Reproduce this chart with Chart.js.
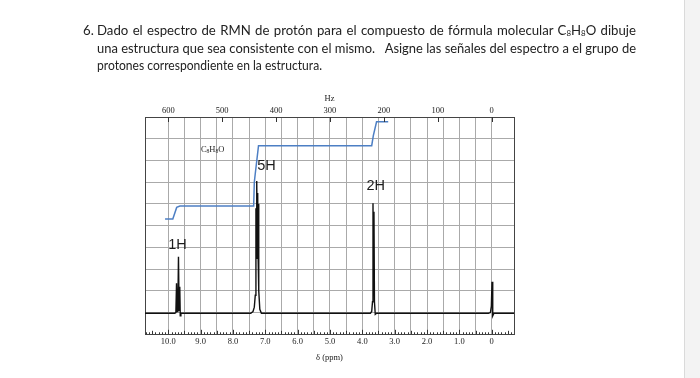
<!DOCTYPE html>
<html>
<head>
<meta charset="utf-8">
<script src="https://cdn.jsdelivr.net/npm/chart.js@4.4.0/dist/chart.umd.min.js"></script>
<style>
  html, body { margin: 0; padding: 0; background: #fff; }
  body { width: 700px; height: 378px; position: relative; overflow: hidden; }
  #chart { position: absolute; left: 0; top: 0; }
  .ln { position: absolute; left: 97px; font-family: Lato, "Open Sans", sans-serif; font-size: 13.2px;
        line-height: 17px; color: #222; white-space: nowrap; }
  .ln span { display: inline-block; transform-origin: 0 0; }
  .ln sub { font-size: 0.6em; vertical-align: -0.15em; line-height: 0; }
  #num { left: 83px; }
  #edge { position: absolute; left: 684px; top: 0; width: 16px; height: 378px;
          background: #f3f3f3; border-left: 1px solid #dadada; }
</style>
</head>
<body>
<canvas id="chart" width="700" height="378"></canvas>
<div class="ln" id="num" style="top:22px"><span>6.</span></div>
<div class="ln" id="l1" style="top:22px"><span>Dado el espectro de RMN de protón para el compuesto de fórmula molecular C<sub>8</sub>H<sub>8</sub>O dibuje</span></div>
<div class="ln" id="l2" style="top:39.5px"><span>una estructura que sea consistente con el mismo.&nbsp;&nbsp; Asigne las señales del espectro a el grupo de</span></div>
<div class="ln" id="l3" style="top:57px"><span>protones correspondiente en la estructura.</span></div>
<div id="edge"></div>
<script>
// chemical shift axis (ppm) and frequency axis (Hz, 60 MHz)
var ppmTicks = [10, 9, 8, 7, 6, 5, 4, 3, 2, 1, 0];
var ppmGrid = [10, 9.5, 9, 8.5, 8, 7.5, 7, 6.5, 6, 5.5, 5, 4.5, 4, 3.5, 3, 2.5, 2, 1.5, 1, 0.5, 0];
var hzTicks = [600, 500, 400, 300, 200, 100, 0];

// spectrum trace
var specPpm = [10.72, 9.80, 9.765, 9.745, 9.725, 9.705, 9.685, 9.665, 9.645, 9.63, 9.61,
    7.45, 7.38, 7.34, 7.31, 7.29, 7.28, 7.265, 7.25, 7.235, 7.225, 7.21, 7.195, 7.17, 7.12,
    3.75, 3.71, 3.685, 3.67, 3.655, 3.64, 3.625, 3.60, 3.56,
    0.10, 0.04, 0.01, -0.01, -0.025, -0.04, -0.07, -0.69];
var specInt = [0.97, 0.97, 1.0, 2.35, 1.05, 1.1, 3.57, 1.1, 2.19, 0.85, 0.97,
    0.97, 1.05, 1.25, 1.8, 5.8, 3.5, 7.05, 4.2, 6.5, 3.8, 6.0, 2.0, 1.15, 0.97,
    0.97, 1.05, 1.5, 6.03, 2.7, 5.64, 1.5, 0.92, 0.97,
    0.97, 1.0, 1.3, 2.42, 1.0, 0.85, 0.97, 0.97];

// integral curve
var integPpm = [10.1, 9.86, 9.74, 9.64, 7.36, 7.34, 7.31, 7.21, 3.71, 3.66, 3.56, 3.20];
var integVal = [5.31, 5.31, 5.84, 5.90, 5.90, 7.0, 7.4, 8.68, 8.68, 9.14, 9.78, 9.78];

// integration labels
var peakLabels = ['1H', '5H', '2H'];
var peakLabelPpm = [10.0, 7.25, 3.87];
var peakLabelVal = [3.93, 7.56, 6.64];

var serif = 'Liberation Serif';

var nmrDecor = {
    id: 'nmrDecor',
    afterDatasetsDraw: function(chart) {
        var ctx = chart.ctx;
        var area = chart.chartArea;
        var x = chart.scales.x, y = chart.scales.y, hz = chart.scales.hz;
        var i, px;

        ctx.save();
        ctx.strokeStyle = '#333';
        ctx.lineWidth = 1;

        // Hz tick marks, pointing into the box
        hzTicks.forEach(function(v) {
            px = Math.round(hz.getPixelForValue(v)) + 0.5;
            ctx.beginPath();
            ctx.moveTo(px, area.top);
            ctx.lineTo(px, area.top + 5);
            ctx.stroke();
        });

        // ruler along the bottom edge, every 0.1 ppm
        for (i = -6; i <= 107; i++) {
            var len = i % 10 === 0 ? 4.5 : (i % 5 === 0 ? 3.5 : 2);
            px = Math.round(x.getPixelForValue(i / 10)) + 0.5;
            ctx.beginPath();
            ctx.moveTo(px, area.bottom);
            ctx.lineTo(px, area.bottom - len);
            ctx.stroke();
        }

        // 1H / 5H / 2H
        ctx.fillStyle = '#1c1c1c';
        ctx.font = '14.5px "Liberation Sans", Arial, sans-serif';
        ctx.textAlign = 'left';
        ctx.textBaseline = 'alphabetic';
        peakLabels.forEach(function(t, k) {
            ctx.fillText(t, x.getPixelForValue(peakLabelPpm[k]), y.getPixelForValue(peakLabelVal[k]));
        });

        // molecular formula C8H8O
        var fx = x.getPixelForValue(8.99), fy = y.getPixelForValue(8.39);
        var parts = [['C', 8.5], ['8', 5.5], ['H', 8.5], ['8', 5.5], ['O', 8.5]];
        ctx.fillStyle = '#2a2a2a';
        parts.forEach(function(p) {
            ctx.font = p[1] + 'px "' + serif + '"';
            ctx.fillText(p[0], fx, p[1] < 8 ? fy + 1.5 : fy);
            fx += ctx.measureText(p[0]).width;
        });
        ctx.restore();
    }
};

new Chart(document.getElementById('chart'), {
    type: 'line',
    data: {
        datasets: [
            {
                label: 'Espectro',
                data: specPpm.map(function(p, i) { return {x: p, y: specInt[i]}; }),
                borderColor: '#111',
                borderWidth: 1.4,
                pointRadius: 0,
                tension: 0
            },
            {
                label: 'Integral',
                data: integPpm.map(function(p, i) { return {x: p, y: integVal[i]}; }),
                borderColor: '#4d7fc4',
                borderWidth: 1.5,
                pointRadius: 0,
                tension: 0
            }
        ]
    },
    options: {
        responsive: false,
        animation: false,
        layout: { padding: 0 },
        plugins: { legend: { display: false }, tooltip: { enabled: false } },
        scales: {
            x: {
                type: 'linear',
                position: 'bottom',
                reverse: true,
                min: -0.69,
                max: 10.72,
                afterBuildTicks: function(s) {
                    s.ticks = ppmGrid.map(function(v) { return {value: v}; });
                },
                afterFit: function(s) { s.height = 43.7; },
                ticks: {
                    autoSkip: false,
                    maxRotation: 0,
                    padding: 2.6,
                    color: '#222',
                    font: { family: serif, size: 8.5 },
                    callback: function(v) {
                        if (ppmTicks.indexOf(v) < 0) return '';
                        return v === 0 ? '0' : v.toFixed(1);
                    }
                },
                grid: { color: '#aaaaaa', lineWidth: 1, drawTicks: false },
                border: { display: true, color: '#444', width: 1 },
                title: {
                    display: true,
                    text: 'δ (ppm)',
                    color: '#222',
                    font: { family: serif, size: 8.5 },
                    padding: { top: 0, bottom: 15.4 }
                }
            },
            hz: {
                type: 'linear',
                position: 'top',
                reverse: true,
                min: -41.4,
                max: 643.2,
                afterBuildTicks: function(s) {
                    s.ticks = hzTicks.map(function(v) { return {value: v}; });
                },
                afterFit: function(s) { s.height = 117; },
                ticks: {
                    autoSkip: false,
                    maxRotation: 0,
                    padding: 1.2,
                    color: '#222',
                    font: { family: serif, size: 8.5 }
                },
                grid: { drawOnChartArea: false, drawTicks: false },
                border: { display: true, color: '#444', width: 1 },
                title: {
                    display: true,
                    text: 'Hz',
                    color: '#222',
                    font: { family: serif, size: 8.5 },
                    padding: { top: 94, bottom: 0 }
                }
            },
            y: {
                type: 'linear',
                position: 'left',
                min: 0,
                max: 10,
                afterFit: function(s) { s.width = 145; },
                ticks: { stepSize: 1, display: false },
                grid: { color: '#aaaaaa', lineWidth: 1, drawTicks: false },
                border: { display: true, color: '#444', width: 1 }
            },
            y2: {
                type: 'linear',
                position: 'right',
                min: 0,
                max: 10,
                afterFit: function(s) { s.width = 186; },
                ticks: { display: false },
                grid: { drawOnChartArea: false, drawTicks: false },
                border: { display: true, color: '#444', width: 1 }
            }
        }
    },
    plugins: [nmrDecor]
});

// stretch the question lines to the widths of the scan
function fitLine(id, target, justify) {
    var span = document.getElementById(id).firstChild;
    var w = span.getBoundingClientRect().width;
    var gaps = span.textContent.split(' ').length - 1;
    if (justify && w < target && gaps > 0) {
        span.style.wordSpacing = ((target - w) / gaps) + 'px';
    } else {
        span.style.transform = 'scaleX(' + (target / w) + ')';
    }
}
fitLine('l1', 539, true);
fitLine('l2', 539, true);
fitLine('l3', 225, false);
</script>
</body>
</html>
